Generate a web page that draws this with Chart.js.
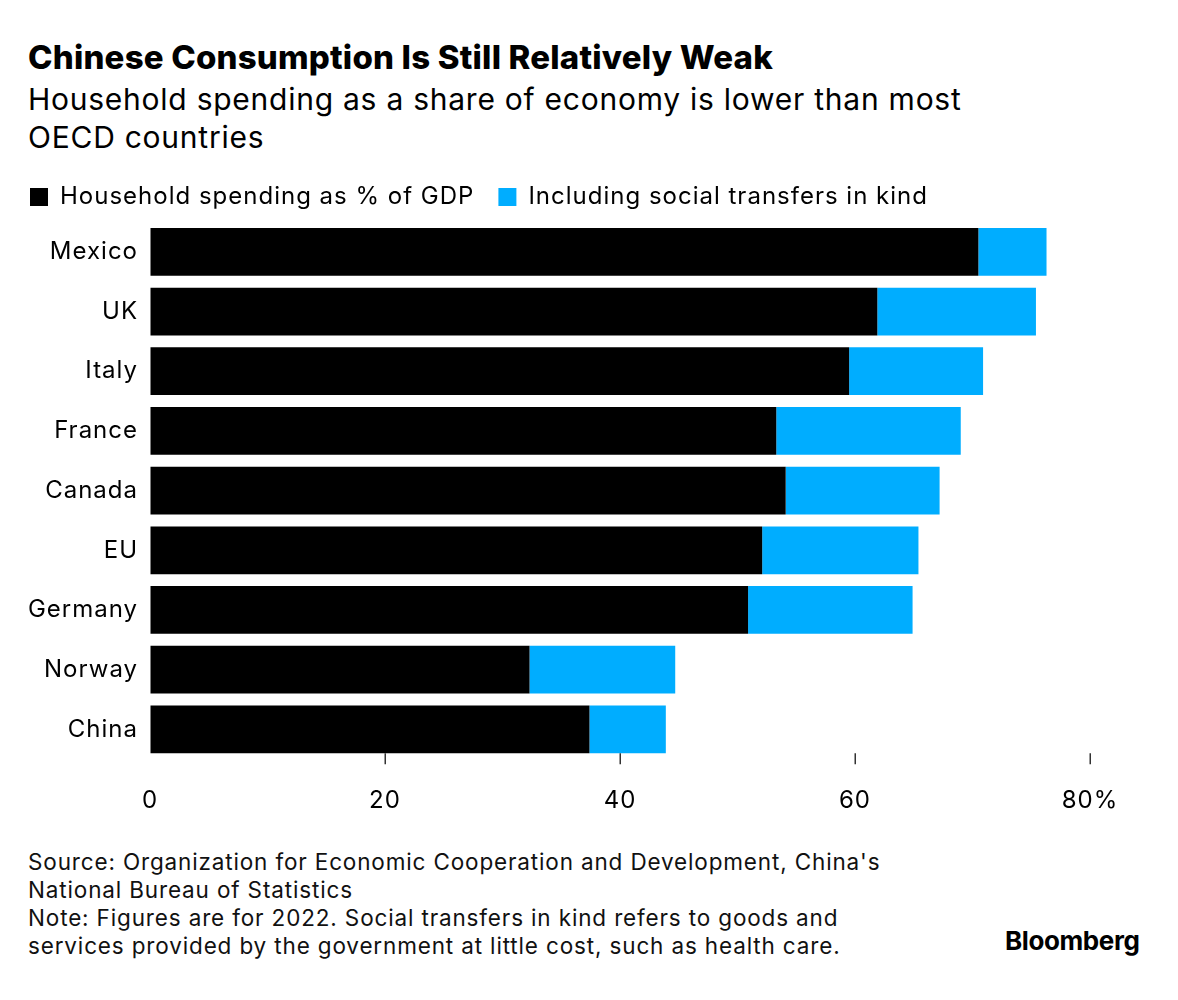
<!DOCTYPE html>
<html>
<head>
<meta charset="utf-8">
<script src="https://cdn.jsdelivr.net/npm/chart.js@4"></script>
<style>
  body { margin: 0; background: #fff; font-family: Inter, "Liberation Sans", Arial, sans-serif; color: #000; }
  #wrap { position: relative; width: 1178px; height: 1000px; }
  .title { position: absolute; left: 28px; top: 37px; font-size: 33px; font-weight: 800; letter-spacing: 0.2px; white-space: nowrap; }
  .sub { position: absolute; left: 28px; top: 80px; font-size: 30px; line-height: 38px; letter-spacing: 0.75px; width: 1100px; }
  .foot { position: absolute; left: 28px; top: 848px; font-size: 22.5px; line-height: 28px; letter-spacing: 0.85px; width: 950px; color: #111; }
  .logo { position: absolute; left: 1005px; top: 925px; font-size: 26px; font-weight: 700; letter-spacing: -0.4px; }
  #box { position: absolute; left: 0; top: 161px; width: 1178px; height: 670px; }
</style>
</head>
<body>
<div id="wrap">
  <div class="title">Chinese Consumption Is Still Relatively Weak</div>
  <div class="sub">Household spending as a share of economy is lower than most<br>OECD countries</div>
  <div id="box"><canvas id="c"></canvas></div>
  <div class="foot">Source: Organization for Economic Cooperation and Development, China's<br>National Bureau of Statistics<br>Note: Figures are for 2022. Social transfers in kind refers to goods and<br>services provided by the government at little cost, such as health care.</div>
  <div class="logo">Bloomberg</div>
</div>
<script>
// --- data ---
const countries = ['Mexico', 'UK', 'Italy', 'France', 'Canada', 'EU', 'Germany', 'Norway', 'China'];
const household = [70.5, 61.9, 59.5, 53.3, 54.1, 52.1, 50.9, 32.3, 37.4];
const inclTransfers = [76.3, 75.4, 70.9, 69.0, 67.2, 65.4, 64.9, 44.7, 43.9];
const xTicks = [0, 20, 40, 60, 80];

const FONT = 'Inter, "Liberation Sans", Arial, sans-serif';

// the reference type runs a bit wider than Inter
const spacing = {
  id: 'spacing',
  beforeLayout(chart) { chart.ctx.letterSpacing = '1px'; },
  beforeDraw(chart) { chart.ctx.letterSpacing = '1px'; }
};

// a little extra room under the legend
const legendGap = {
  id: 'legendGap',
  beforeInit(chart) {
    const fit = chart.legend.fit;
    chart.legend.fit = function () { fit.bind(chart.legend)(); this.height += 3; };
  }
};

// short tick marks hanging from the bottom edge of the last bar
const hangTicks = {
  id: 'hangTicks',
  afterDatasetsDraw(chart) {
    const xs = chart.scales.x;
    const meta = chart.getDatasetMeta(0);
    const last = meta.data[meta.data.length - 1];
    const y0 = last.y + last.height / 2;
    const ctx = chart.ctx;
    ctx.save();
    ctx.strokeStyle = '#333';
    ctx.lineWidth = 1.5;
    xTicks.filter(v => v > 0).forEach(v => {
      const x = Math.round(xs.getPixelForValue(v)) + 0.25;
      ctx.beginPath();
      ctx.moveTo(x, y0);
      ctx.lineTo(x, y0 + 11);
      ctx.stroke();
    });
    ctx.restore();
  }
};

new Chart(document.getElementById('c'), {
  type: 'bar',
  data: {
    labels: countries,
    datasets: [
      {
        label: 'Household spending as % of GDP',
        data: household,
        backgroundColor: '#000000',
        grouped: false,
        barPercentage: 0.8,
        categoryPercentage: 1.0
      },
      {
        label: 'Including social transfers in kind',
        // blue part runs from the end of the black bar out to the total
        data: household.map((h, i) => [h, inclTransfers[i]]),
        backgroundColor: '#00adff',
        grouped: false,
        barPercentage: 0.8,
        categoryPercentage: 1.0
      }
    ]
  },
  plugins: [spacing, legendGap, hangTicks],
  options: {
    indexAxis: 'y',
    responsive: true,
    maintainAspectRatio: false,
    animation: false,
    layout: { padding: { left: 6, right: 88, top: 0, bottom: 0 } },
    plugins: {
      tooltip: { enabled: false },
      legend: {
        position: 'top',
        align: 'start',
        labels: {
          boxWidth: 18,
          boxHeight: 18,
          padding: 24,
          color: '#000',
          font: { family: FONT, size: 24 }
        }
      }
    },
    scales: {
      x: {
        min: 0,
        max: 80,
        afterBuildTicks: s => { s.ticks = xTicks.map(v => ({ value: v })); },
        border: { display: false },
        grid: {
          drawOnChartArea: false,
          drawTicks: true,
          tickLength: 11,
          tickColor: 'rgba(0,0,0,0)'
        },
        ticks: {
          color: '#000',
          padding: 16,
          maxRotation: 0,
          font: { family: FONT, size: 24 },
          callback: v => (v === 80 ? v + '%' : v)
        }
      },
      y: {
        afterFit: s => { s.width = 144; },
        border: { display: false },
        grid: { display: false },
        ticks: {
          color: '#000',
          padding: 4,
          font: { family: FONT, size: 24 }
        }
      }
    }
  }
});
</script>
</body>
</html>
